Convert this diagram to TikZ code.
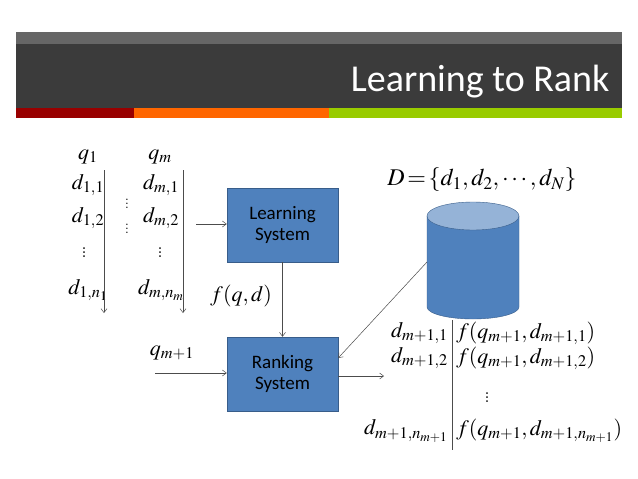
\documentclass[tikz,border=0pt]{standalone}
\usepackage{fontspec}
\usepackage{mathptmx}
\newfontfamily\carl{Carlito}
\usetikzlibrary{arrows.meta,shapes.geometric}
\definecolor{boxblue}{HTML}{4F81BD}
\definecolor{boxedge}{HTML}{385D8A}
\definecolor{toplight}{HTML}{95B3D7}
\definecolor{bandred}{HTML}{990000}
\definecolor{bandor}{HTML}{FF6600}
\definecolor{bandgr}{HTML}{99CC00}
\tikzset{
  sys/.style={draw=boxedge,fill=boxblue,minimum width=111pt,minimum height=74pt,font=\carl\fontsize{19}{21}\selectfont,align=center,text=black},
  arr/.style={draw=black!70,-{Straight Barb[length=4pt,width=6pt]},line width=0.5pt},
  m/.style={inner sep=0pt,font=\fontsize{22}{24}\selectfont},
}
\begin{document}
\begin{tikzpicture}[x=1pt,y=-1pt]
\useasboundingbox (0,0) rectangle (638,479);
\fill[white] (0,0) rectangle (638,479);
\fill[black!60] (16,32) rectangle (622,44);
\fill[black!77] (16,44) rectangle (622,108);
\fill[bandred] (16,108) rectangle (134,118);
\fill[bandor] (134,108) rectangle (329,118);
\fill[bandgr] (329,108) rectangle (622,118);
\node[anchor=east,text=white,font=\carl\fontsize{38}{40}\selectfont] (title) at (613,82) {Learning to Rank};
% left lists
\node[m] (q1) at (88,157) {$q_1$};
\node[m] (d11) at (88,185) {$d_{1,1}$};
\node[m] (d12) at (88,218) {$d_{1,2}$};
\node[m] (dd1) at (84,250) {$\vdots$};
\node[m] (d1n) at (88,290) {$d_{1,n_1}$};
\node[m] (qm) at (160,157) {$q_m$};
\node[m] (dm1) at (161,185) {$d_{m,1}$};
\node[m] (dm2) at (161,218) {$d_{m,2}$};
\node[m] (ddm) at (160,250) {$\vdots$};
\node[m] (dmn) at (161,290) {$d_{m,n_m}$};
\node[m,font=\fontsize{17}{19}\selectfont] (mid1) at (127,201) {$\vdots$};
\node[m,font=\fontsize{17}{19}\selectfont] (mid2) at (127,226) {$\vdots$};
\coordinate (l1s) at (104,170); \coordinate (l1e) at (104,313);
\coordinate (l2s) at (183,170); \coordinate (l2e) at (183,313);
\draw[arr] (l1s) -- (l1e);
\draw[arr] (l2s) -- (l2e);
% boxes
\node[sys] (learn) at (282.5,225) {Learning\\System};
\node[sys] (rank) at (282.5,374) {Ranking\\System};
\coordinate (lin) at (196,224);
\draw[arr] (lin) -- (learn.west|-lin);
\draw[arr] (learn) -- (rank);
\node[m,anchor=east] (fqd) at (272,296) {$f(q,d)$};
\node[m] (qm1) at (172,353) {$q_{m+1}$};
\coordinate (qin) at (155,373);
\draw[arr] (qin) -- (rank.west|-qin);
\coordinate (rout) at (384,376);
\draw[arr] (rank.east|-rout) -- (rout);
% cylinder
\draw[boxedge,fill=boxblue] (427,216) -- (427,307) arc[start angle=180,end angle=0,x radius=46,y radius=12] -- (519,216) -- cycle;
\draw[boxedge,fill=toplight] (473,216) ellipse[x radius=46,y radius=14];
\coordinate (dbl) at (427,262);
\draw[arr] (dbl) -- (rank.east|-0,358);
\node[m,font=\fontsize{24}{26}\selectfont] (D) at (482,180) {$D\!=\!\{d_1,d_2,\cdots,d_N\}$};
% result table
\coordinate (vs) at (452,320); \coordinate (ve) at (452,450);
\draw[black!70] (vs) -- (ve);
\node[m,anchor=east] (r1) at (448,333) {$d_{m+1,1}$};
\node[m,anchor=east] (r2) at (448,358) {$d_{m+1,2}$};
\node[m,anchor=east] (rn) at (448,431) {$d_{m+1,n_{m+1}}$};
\node[m,anchor=west] (f1) at (456,333) {$f(q_{m+1},d_{m+1,1})$};
\node[m,anchor=west] (f2) at (456,358) {$f(q_{m+1},d_{m+1,2})$};
\node[m] (fd) at (487,395) {$\vdots$};
\node[m,anchor=west] (fn) at (456,431) {$f(q_{m+1},d_{m+1,n_{m+1}})$};
\end{tikzpicture}
\end{document}
